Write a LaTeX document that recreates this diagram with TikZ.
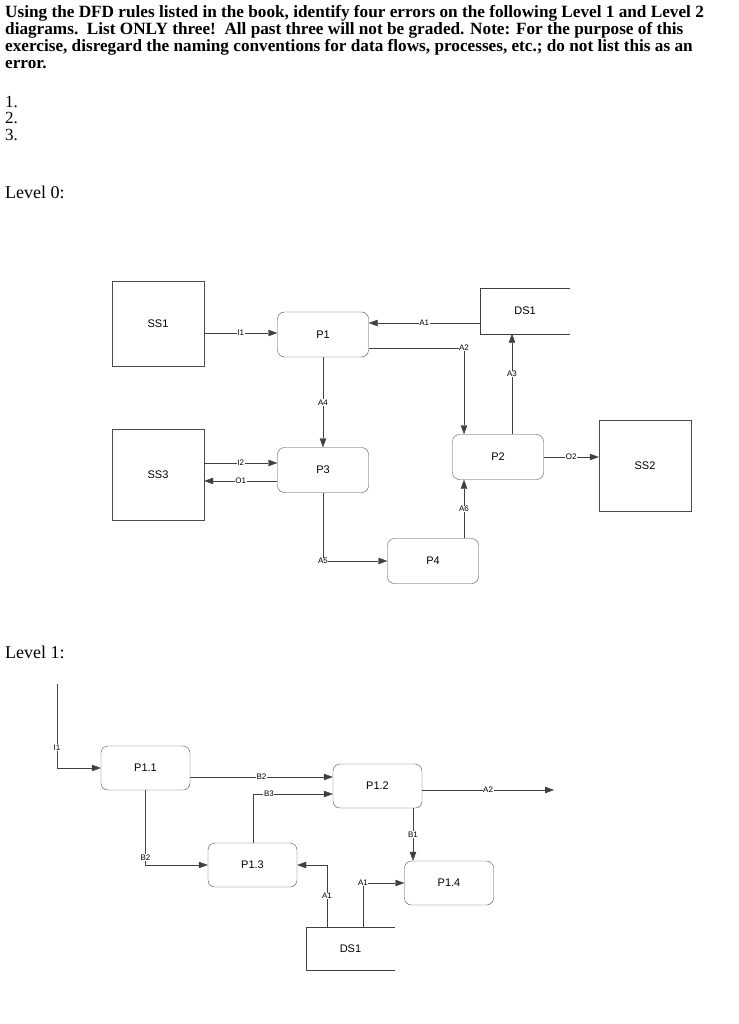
\documentclass[tikz,border=0pt]{standalone}
\usepackage{fontspec}
\setmainfont{Liberation Serif}
\newfontfamily\dfdfont{Liberation Sans}
\usetikzlibrary{arrows.meta,positioning}

\begin{document}
\begin{tikzpicture}[x=1pt,y=-1pt,
    flow/.style={draw=black!75,thin,-{Triangle[length=9pt,width=6.5pt]}},
    line/.style={draw=black!75,thin},
    lbl/.style={fill=white,inner sep=0.6pt,font=\dfdfont\fontsize{8}{9}\selectfont},
    proc/.style={draw=black!70,rounded corners=7pt,minimum width=91pt,minimum height=45pt,font=\dfdfont\fontsize{11}{12}\selectfont},
    ext/.style={draw=black!70,minimum width=92pt,font=\dfdfont\fontsize{11}{12}\selectfont},
    store/.style={minimum width=90pt,minimum height=45pt,font=\dfdfont\fontsize{11}{12}\selectfont},
    txt/.style={anchor=base west,inner sep=0pt,font=\fontsize{17}{20}\selectfont}]
    \useasboundingbox (0,0) rectangle (738,1024);

    % question text
    \node[txt,font=\bfseries\fontsize{17.2}{20}\selectfont] (q1) at (5,18) {Using the DFD rules listed in the book, identify four errors on the following Level 1 and Level 2};
    \node[txt,font=\bfseries\fontsize{17.2}{20}\selectfont] (q2) at (5,35) {diagrams.\ \ List ONLY three!\ \ All past three will not be graded. Note: For the purpose of this};
    \node[txt,font=\bfseries\fontsize{17.2}{20}\selectfont] (q3) at (5,52) {exercise, disregard the naming conventions for data flows, processes, etc.; do not list this as an};
    \node[txt,font=\bfseries\fontsize{17.2}{20}\selectfont] (q4) at (5,69) {error.};
    \node[txt] (n1) at (5,108) {1.};
    \node[txt] (n2) at (5,124) {2.};
    \node[txt] (n3) at (5,141) {3.};
    \node[txt,font=\fontsize{18}{20}\selectfont] (lv0) at (5,199) {Level 0:};
    \node[txt,font=\fontsize{18}{20}\selectfont] (lv1) at (5,658) {Level 1:};

    % level 0
    \node[ext,minimum height=85pt] (SS1) at (158,323.5) {SS1};
    \node[ext,minimum height=91pt] (SS2) at (645,465.5) {SS2};
    \node[ext,minimum height=91pt] (SS3) at (158,474.5) {SS3};
    \node[proc] (P1) at (323,334.5) {P1};
    \node[proc] (P2) at (498,457) {P2};
    \node[proc] (P3) at (323,470) {P3};
    \node[proc] (P4) at (433,561) {P4};
    \node[store] (DS1) at (525,311) {DS1};
    \draw[line] (DS1.north east) -- (DS1.north west) -- (DS1.south west) -- (DS1.south east);

    \draw[flow] (SS1.east |- 0,333) -- node[lbl] {I1} (P1.west |- 0,333);
    \draw[flow] (DS1.west |- 0,323) -- node[lbl] {A1} (P1.east |- 0,323);
    \draw[flow] (P1.east |- 0,348) -| node[lbl,pos=0.5] {A2} (P2.north -| 464,0);
    \draw[flow] (P1) -- node[lbl] {A4} (P3);
    \draw[flow] (P2.north -| 512,0) -- node[lbl,pos=0.6] {A3} (DS1.south -| 512,0);
    \draw[flow] (P2.east |- 0,457) -- node[lbl] {O2} (SS2.west |- 0,457);
    \draw[flow] (SS3.east |- 0,463) -- node[lbl] {I2} (P3.west |- 0,463);
    \draw[flow] (P3.west |- 0,481) -- node[lbl] {O1} (SS3.east |- 0,481);
    \draw[flow] (P3.south) |- node[lbl,pos=0.5] {A5} (P4.west);
    \draw[flow] (P4.north -| 464,0) -- node[lbl] {A6} (P2.south -| 464,0);

    % level 1
    \coordinate (in1) at (57,684);
    \node[proc,minimum width=89pt,minimum height=44pt] (P11) at (145.5,768) {P1.1};
    \node[proc,minimum width=89pt,minimum height=44pt] (P12) at (377.5,786) {P1.2};
    \node[proc,minimum width=89pt,minimum height=44pt] (P13) at (252.5,865) {P1.3};
    \node[proc,minimum width=89pt,minimum height=44pt] (P14) at (449,883) {P1.4};
    \node[store,minimum width=89pt,minimum height=43pt] (DS1b) at (350.5,948.5) {DS1};
    \draw[line] (DS1b.north east) -- (DS1b.north west) -- (DS1b.south west) -- (DS1b.south east);
    \coordinate (out2) at (554,790);

    \draw[flow] (in1) |- node[lbl,pos=0.38] {I1} (P11.west);
    \draw[flow] (P11.east |- 0,777) -- node[lbl] {B2} (P12.west |- 0,777);
    \draw[flow] (P13.north -| 253,0) |- node[lbl,pos=0.6] {B3} (P12.west |- 0,794);
    \draw[flow] (P12.east |- 0,790) -- node[lbl] {A2} (out2);
    \draw[flow] (P12.south -| 413,0) -- node[lbl] {B1} (P14.north -| 413,0);
    \draw[flow] (P11.south) |- node[lbl,pos=0.45] {B2} (P13.west);
    \draw[flow] (DS1b.north -| 327,0) |- node[lbl,pos=0.25] {A1} (P13.east);
    \draw[flow] (DS1b.north -| 363,0) |- node[lbl,pos=0.5] {A1} (P14.west);
\end{tikzpicture}
\end{document}
